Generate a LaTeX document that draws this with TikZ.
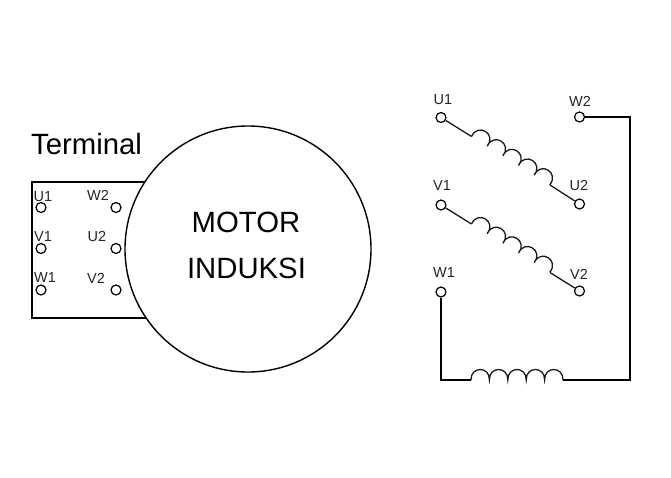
\documentclass[tikz,border=0pt]{standalone}
\usepackage{fontspec}
\setmainfont{Liberation Sans}
\tikzset{
  thinwire/.style={line width=1.3pt,draw=black!90},
  thickwire/.style={line width=2.3pt,draw=black,line join=miter},
  term/.style={circle,draw=black,line width=1.2pt,inner sep=0pt,minimum size=10pt,fill=white},
  lab/.style={font=\fontsize{14.5}{16}\selectfont,text=black!85,inner sep=0pt,anchor=center},
  big/.style={font=\fontsize{29.3}{30}\selectfont,text=black,inner sep=0pt,anchor=center},
  pics/coil/.style={code={
    \draw[thinwire] (0,0)
      .. controls +(-0.5,-14) and +(0.5,-14) .. ++(18.4,0)
      .. controls +(-0.5,-14) and +(0.5,-14) .. ++(18.4,0)
      .. controls +(-0.5,-14) and +(0.5,-14) .. ++(18.4,0)
      .. controls +(-0.5,-14) and +(0.5,-14) .. ++(18.4,0)
      .. controls +(-0.5,-14) and +(0.5,-14) .. ++(18.4,0);
  }},
  pics/slantcoil/.style={code={
    \draw[thinwire] (0,0)
      .. controls +(-2,-15.5) and +(2,-15.5) .. ++(18.4,0)
      .. controls +(-2,-15.5) and +(2,-15.5) .. ++(18.4,0)
      .. controls +(-2,-15.5) and +(2,-15.5) .. ++(18.4,0)
      .. controls +(-2,-15.5) and +(2,-15.5) .. ++(18.4,0)
      .. controls +(-2,-15.5) and +(2,-15.5) .. ++(18.4,0);
  }}
}
\begin{document}
\begin{tikzpicture}[x=1pt,y=-1pt]
\useasboundingbox (0,0) rectangle (671,477);
\fill[white] (0,0) rectangle (671,477);
% terminal box and motor
\node[draw=black,line width=2.2pt,minimum width=128pt,minimum height=136pt,inner sep=0pt,anchor=north west] (box) at (31,181) {};
\node[circle,draw=black,line width=1.4pt,fill=white,minimum size=246pt,inner sep=0pt] (motor) at (248,249) {};
\node[big] (tlabel) at (86.5,144) {Terminal};
\node[big] (m1) at (246,222) {MOTOR};
\node[big] (m2) at (246.5,268) {INDUKSI};
% box terminals
\node[term] (bu1) at (41,207.5) {};
\node[term] (bv1) at (41,248.5) {};
\node[term] (bw1) at (41,290) {};
\node[term] (bw2) at (116,207.5) {};
\node[term] (bu2) at (116,248.5) {};
\node[term] (bv2) at (116,290) {};
\node[lab] (lbu1) at (43,196.5) {U1};
\node[lab] (lbv1) at (43,236.5) {V1};
\node[lab] (lbw1) at (45,277.5) {W1};
\node[lab] (lbw2) at (98,195.5) {W2};
\node[lab] (lbu2) at (97,237) {U2};
\node[lab] (lbv2) at (96,278) {V2};
% winding terminals
\node[term] (u1) at (441,117.5) {};
\node[term] (u2) at (579.5,204) {};
\node[term] (v1) at (441,205) {};
\node[term] (v2) at (579.5,291) {};
\node[term] (w1) at (441,292) {};
\node[term] (w2) at (579.5,117) {};
\node[lab] (lu1) at (443,100) {U1};
\node[lab] (lu2) at (579,186) {U2};
\node[lab] (lv1) at (442,186) {V1};
\node[lab] (lv2) at (579,274) {V2};
\node[lab] (lw1) at (444,273) {W1};
\node[lab] (lw2) at (580,101) {W2};
% coil anchors
\coordinate (a1) at (471.5,136.5);
\coordinate (b1) at (550,185);
\coordinate (a2) at (471.5,224);
\coordinate (b2) at (550,272.5);
\coordinate (a3) at (471,380);
\coordinate (b3) at (563,380);
\coordinate (c1) at (441,380);
\coordinate (c2) at (630,380);
\coordinate (c3) at (630,117);
% coils
\pic[rotate=-31.7] at (a1) {slantcoil};
\pic[rotate=-31.7] at (a2) {slantcoil};
\pic at (a3) {coil};
% connectors
\draw[thinwire] (u1) -- (a1);
\draw[thinwire] (b1) -- (u2);
\draw[thinwire] (v1) -- (a2);
\draw[thinwire] (b2) -- (v2);
\draw[thickwire] (w1) -- (c1) -- (a3);
\draw[thickwire] (b3) -- (c2) -- (c3) -- (w2);
\end{tikzpicture}
\end{document}
